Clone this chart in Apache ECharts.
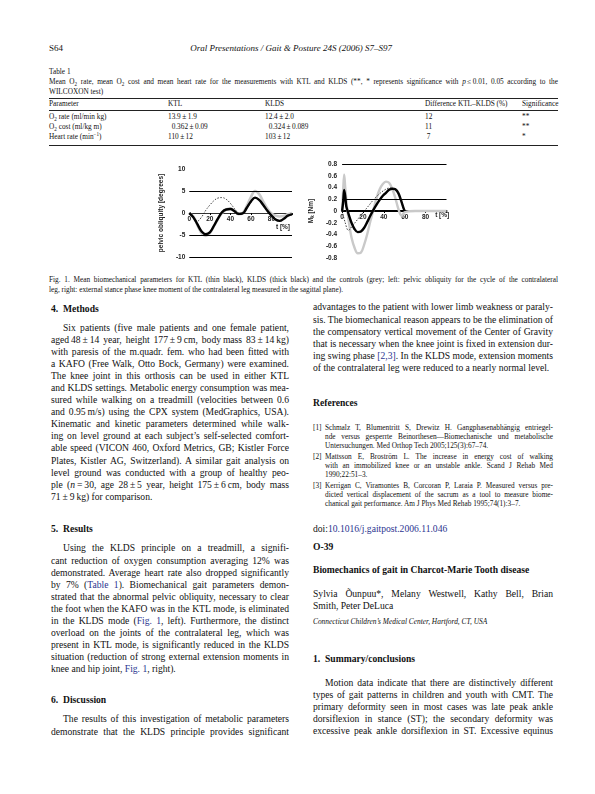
<!DOCTYPE html>
<html><head><meta charset="utf-8">
<script src="https://cdn.jsdelivr.net/npm/echarts@6/dist/echarts.min.js"></script>
<style>
html,body{margin:0;padding:0;background:#fff;}
body{width:595px;height:794px;position:relative;overflow:hidden;font-family:"Liberation Serif","DejaVu Serif",serif;color:#111;}
.ln{position:absolute;white-space:normal;}
.j{text-align:justify;text-align-last:justify;}
.b{font-weight:bold;}
.lk{color:#2b3590;}
sub,sup{line-height:0;font-size:70%;}
.rule{position:absolute;left:49px;width:509px;height:0;border-top:0.7px solid #222;}
#c1,#c2{position:absolute;}
</style></head><body>
<div id="c1" style="left:150px;top:160px;width:150px;height:110px"></div>
<div id="c2" style="left:300px;top:155px;width:155px;height:115px"></div>
<script>
// ---------- chart data ----------
// Left: pelvic obliquity [degrees] vs t [%]
const leftX    = [0,4,8,12,16,20,24,28,32,36,40,44,48,52,56,60,64,68,72,76,80,84,88,92,96,100];
const leftKTL  = [0,-1.0,-1.8,-0.9,0.6,1.8,2.8,3.4,3.5,3.1,2.2,1.0,0.0,-0.2,1.0,2.4,3.4,3.0,1.8,0.4,-0.7,-1.4,-1.7,-1.2,-0.5,-0.2];
const leftKLDS = [0,-1.0,-2.6,-4.2,-4.8,-4.4,-2.9,-1.2,0.2,0.8,0.9,0.4,-0.2,-0.1,1.2,2.6,3.5,3.0,1.8,0.5,-0.6,-1.5,-1.8,-1.3,-0.6,-0.3];
const leftCtrl = [0,-0.8,-2.8,-4.6,-5.2,-4.6,-3.0,-1.3,0.0,0.8,1.0,0.5,-0.3,0.0,1.6,3.6,5.0,4.3,2.6,1.0,-0.1,-0.6,-0.8,-0.7,-0.3,0];
const leftGrid = [5,-5,-10];
const xTicks   = [0,20,40,60,80];

// Right: knee moment M_k [Nm] vs t [%]
const rightCtrlX = [0,1,2,3,5,7,9,12,15,18,21,24,27,30,33,36,39,42,45,48,51,54,57,60,70,80,90,100];
const rightCtrl  = [0,0.35,0.62,0.4,0.02,-0.25,-0.45,-0.63,-0.72,-0.71,-0.58,-0.4,-0.18,0.02,0.22,0.37,0.46,0.5,0.48,0.38,0.22,0.03,-0.08,-0.02,0,0,0,0];
const rightKLDSX = [0,1,2,3,4,6,9,12,15,18,21,24,27,30,33,36,39,42,45,48,51,54,57,59,60];
const rightKLDS  = [0,0.15,0.36,0.25,0.08,-0.04,-0.2,-0.31,-0.36,-0.35,-0.29,-0.19,-0.08,0.02,0.11,0.19,0.26,0.31,0.36,0.38,0.37,0.3,0.15,0.04,0];
const rightKTLX  = [0,3,6,10,15,20,25,30,35,40,45,50,53,56,58,60];
const rightKTL   = [0,-0.2,-0.33,-0.25,-0.14,-0.03,0.08,0.19,0.28,0.35,0.39,0.38,0.34,0.2,0.1,0];
const rightGrid  = [0.8,0.2];

const pair = (xs, ys) => xs.map((x, i) => [x, ys[i]]);
const lblFont = {fontSize:6.5, color:'#222', fontFamily:'Liberation Sans', fontWeight:'bold'};

function gridMark(vals){
  return {silent:true, symbol:'none', label:{show:false}, animation:false,
    lineStyle:{color:'#000', width:1, type:'solid'}, data: vals.map(v => ({yAxis:v}))};
}

// grid heights: left 110-9-13 = 88 (zero at half), right 115-9-12 = 94 (zero at half)
const c1 = echarts.init(document.getElementById('c1'));
c1.setOption({
  animation:false,
  grid:{left:33, right:8, top:9, bottom:13},
  xAxis:{type:'value', min:0, max:100, interval:20, position:'bottom', offset:-44,
    axisLine:{onZero:false, lineStyle:{color:'#000', width:0.8}},
    axisTick:{show:true, length:2, lineStyle:{color:'#000'}},
    axisLabel:Object.assign({margin:3, formatter:v => xTicks.includes(v) ? String(v) : ''}, lblFont),
    splitLine:{show:false},
    name:'t [%]', nameLocation:'end', nameGap:0,
    nameTextStyle:{fontSize:6.5, fontFamily:'Liberation Sans', fontWeight:'bold', color:'#222', align:'right', verticalAlign:'top', padding:[11,2,0,0]}},
  yAxis:{type:'value', min:-10, max:10, interval:5,
    axisLine:{show:false}, axisTick:{show:false}, splitLine:{show:false},
    axisLabel:Object.assign({margin:4}, lblFont),
    name:'pelvic obliquity [degrees]', nameLocation:'middle', nameGap:19,
    nameTextStyle:{fontSize:6.5, fontFamily:'Liberation Sans', fontWeight:'bold', color:'#222'}},
  series:[
    {type:'line', data:pair(leftX, leftCtrl), smooth:0.4, symbol:'none', z:2,
     lineStyle:{color:'#c9c9c9', width:2.6}, markLine:gridMark(leftGrid)},
    {type:'line', data:pair(leftX, leftKLDS), smooth:0.4, symbol:'none', z:3,
     lineStyle:{color:'#000', width:2.4}},
    {type:'line', data:pair(leftX, leftKTL), smooth:0.4, symbol:'none', z:4,
     lineStyle:{color:'#111', width:0.8, type:[1.5,1.5]}}
  ]
});

const c2 = echarts.init(document.getElementById('c2'));
c2.setOption({
  animation:false,
  grid:{left:31.5, right:8.5, top:9, bottom:12},
  xAxis:{type:'value', min:0, max:100, interval:20, position:'bottom', offset:-47,
    axisLine:{onZero:false, lineStyle:{color:'#000', width:2}},
    axisTick:{show:true, length:2, lineStyle:{color:'#000'}},
    axisLabel:Object.assign({margin:3, formatter:v => xTicks.includes(v) ? String(v) : ''}, lblFont),
    splitLine:{show:false},
    name:'t [%]', nameLocation:'end', nameGap:0,
    nameTextStyle:{fontSize:6.5, fontFamily:'Liberation Sans', fontWeight:'bold', color:'#222', align:'right', verticalAlign:'top', padding:[1,3,0,0]}},
  yAxis:{type:'value', min:-0.8, max:0.8, interval:0.2,
    axisLine:{show:false}, axisTick:{show:false}, splitLine:{show:false},
    axisLabel:Object.assign({margin:5, formatter:v => Math.abs(v) < 1e-9 ? '0' : v.toFixed(1)}, lblFont),
    name:'{m|M}{s|k} [Nm]', nameLocation:'middle', nameGap:22,
    nameTextStyle:{fontSize:6.5, fontFamily:'Liberation Sans', fontWeight:'bold', color:'#222',
      rich:{m:{fontSize:6.5, fontFamily:'Liberation Sans', fontWeight:'bold', color:'#222'},
            s:{fontSize:4.5, fontFamily:'Liberation Sans', fontWeight:'bold', color:'#222', verticalAlign:'bottom'}}}},
  series:[
    {type:'line', data:pair(rightCtrlX, rightCtrl), smooth:0.35, symbol:'none', z:2,
     lineStyle:{color:'#c9c9c9', width:2.4}, markLine:gridMark(rightGrid)},
    {type:'line', data:pair(rightKLDSX, rightKLDS), smooth:0.35, symbol:'none', z:3,
     lineStyle:{color:'#000', width:2.4}},
    {type:'line', data:pair(rightKTLX, rightKTL), smooth:0.35, symbol:'none', z:4,
     lineStyle:{color:'#111', width:0.8, type:[1.5,1.5]}}
  ]
});

// ---------- page text ----------
function add(x, yc, w, lh, fs, html, cls, extra){
  const d = document.createElement('div');
  d.className = 'ln ' + (cls || '');
  d.style.left = x + 'px';
  d.style.top = (yc - lh / 2) + 'px';
  if (w) d.style.width = w + 'px';
  d.style.lineHeight = lh + 'px';
  d.style.fontSize = fs + 'px';
  d.innerHTML = html;
  if (extra) Object.assign(d.style, extra);
  document.body.appendChild(d);
  return d;
}
// lines: '@' prefix = paragraph indent, '$' suffix = not justified
function para(x, w, y0, lh, fs, lines, indent){
  lines.forEach((t, i) => {
    let ind = 0, cls = 'j';
    if (t.startsWith('@')) { t = t.slice(1); ind = indent; }
    if (t.endsWith('$')) { t = t.slice(0, -1); cls = ''; }
    add(x + ind, y0 + i * lh, w - ind, lh, fs, t, cls);
  });
}
const T = '\u2009';
const pm = T + '±' + T;

// header
add(49, 48, 40, 11, 9, 'S64');
add(0, 48, 392, 11, 9, '<i>Oral Presentations / Gait &amp; Posture 24S (2006) S7–S97</i>', '', {textAlign:'right'});

// table
const tfs = 7.3;
add(49, 71, 0, 9, tfs, 'Table 1');
add(49, 82, 509, 10, tfs, 'Mean O<sub>2</sub> rate, mean O<sub>2</sub> cost and mean heart rate for the measurements with KTL and KLDS (**, * represents significance with <i>p</i>' + T + '≤' + T + '0.01, 0.05 according to the', 'j');
add(49, 92, 0, 10, tfs, 'WILCOXON test)');
[98, 109.5, 145].forEach(y => { const d = document.createElement('div'); d.className = 'rule'; d.style.top = y + 'px'; document.body.appendChild(d); });
const colX = [49, 168, 265, 425, 522];
const tRows = [
  [104, ['Parameter', 'KTL', 'KLDS', 'Difference KTL–KLDS (%)', 'Significance']],
  [117, ['O<sub>2</sub> rate (ml/min kg)', '13.9' + pm + '1.9', '12.4' + pm + '2.0', '12', '**']],
  [127, ['O<sub>2</sub> cost (ml/kg m)', '&nbsp;&nbsp;0.362' + pm + '0.09', '&nbsp;&nbsp;0.324' + pm + '0.089', '11', '**']],
  [137, ['Heart rate (min<sup>−1</sup>)', '110' + pm + '12', '103' + pm + '12', '&nbsp;7', '*']]
];
tRows.forEach(r => r[1].forEach((c, k) => add(colX[k], r[0], 0, 10, tfs, c, '', {whiteSpace:'nowrap'})));

// figure caption
add(49, 280, 509, 10, tfs, 'Fig. 1. Mean biomechanical parameters for KTL (thin black), KLDS (thick black) and the controls (grey; left: pelvic obliquity for the cycle of the contralateral', 'j');
add(49, 290, 0, 10, tfs, 'leg, right: external stance phase knee moment of the contralateral leg measured in the sagittal plane).', '', {whiteSpace:'nowrap'});

// left column
const LX = 51, LW = 238, RX = 313, RW = 240, LH = 12.05, FS = 9.6, IND = 12;
add(LX, 309, 0, LH, FS, '4.&nbsp; Methods', 'b', {whiteSpace:'nowrap'});
para(LX, LW, 328, LH, FS, [
  '@Six patients (five male patients and one female patient,',
  'aged' + T + '48' + pm + '14 year, height 177' + pm + '9' + T + 'cm, body' + T + 'mass 83' + pm + '14' + T + 'kg)',
  'with paresis of the m.quadr. fem. who had been fitted with',
  'a KAFO (Free Walk, Otto Bock, Germany) were examined.',
  'The knee joint in this orthosis can be used in either KTL',
  'and KLDS settings. Metabolic energy consumption was mea-',
  'sured while walking on a treadmill (velocities between 0.6',
  'and 0.95' + T + 'm/s) using the CPX system (MedGraphics, USA).',
  'Kinematic and kinetic parameters determined while walk-',
  'ing on level ground at each subject’s self-selected comfort-',
  'able speed (VICON 460, Oxford Metrics, GB; Kistler Force',
  'Plates, Kistler AG, Switzerland). A similar gait analysis on',
  'level ground was conducted with a group of healthy peo-',
  'ple (<i>n</i>' + T + '=' + T + '30, age 28' + pm + '5 year, height 175' + pm + '6' + T + 'cm, body mass',
  '71' + pm + '9' + T + 'kg) for comparison.$'
], IND);
add(LX, 529, 0, LH, FS, '5.&nbsp; Results', 'b', {whiteSpace:'nowrap'});
para(LX, LW, 548.5, LH, FS, [
  '@Using the KLDS principle on a treadmill, a signifi-',
  'cant reduction of oxygen consumption averaging 12% was',
  'demonstrated. Average heart rate also dropped significantly',
  'by 7% (<span class="lk">Table 1</span>). Biomechanical gait parameters demon-',
  'strated that the abnormal pelvic obliquity, necessary to clear',
  'the foot when the KAFO was in the KTL mode, is eliminated',
  'in the KLDS mode (<span class="lk">Fig. 1</span>, left). Furthermore, the distinct',
  'overload on the joints of the contralateral leg, which was',
  'present in KTL mode, is significantly reduced in the KLDS',
  'situation (reduction of strong external extension moments in',
  'knee and hip joint, <span class="lk">Fig. 1</span>, right).$'
], IND);
add(LX, 700, 0, LH, FS, '6.&nbsp; Discussion', 'b', {whiteSpace:'nowrap'});
para(LX, LW, 719.5, LH, FS, [
  '@The results of this investigation of metabolic parameters',
  'demonstrate that the KLDS principle provides significant'
], IND);

// right column
para(RX, RW, 307.5, LH, FS, [
  'advantages to the patient with lower limb weakness or paraly-',
  'sis. The biomechanical reason appears to be the elimination of',
  'the compensatory vertical movement of the Center of Gravity',
  'that is necessary when the knee joint is fixed in extension dur-',
  'ing swing phase <span class="lk">[2,3]</span>. In the KLDS mode, extension moments',
  'of the contralateral leg were reduced to a nearly normal level.$'
], IND);
add(RX, 403, 0, LH, FS, 'References', 'b');
const rfs = 7.3, rlh = 9.1, RTX = 325, RTW = 228;
const refs = [
  ['[1]', ['Schmalz T, Blumentritt S, Drewitz H. Gangphasenabhängig entriegel-',
           'nde versus gesperrte Beinorthesen—Biomechanische und metabolische',
           'Untersuchungen. Med Orthop Tech 2005;125(3):67–74.$']],
  ['[2]', ['Mattsson E, Broström L. The increase in energy cost of walking',
           'with an immobilized knee or an unstable ankle. Scand J Rehab Med',
           '1990;22:51–3.$']],
  ['[3]', ['Kerrigan C, Viramontes B, Corcoran P, Laraia P. Measured versus pre-',
           'dicted vertical displacement of the sacrum as a tool to measure biome-',
           'chanical gait performance. Am J Phys Med Rehab 1995;74(1):3–7.$']]
];
let ry = 427.5;
refs.forEach(r => {
  add(RX, ry, 0, rlh, rfs, r[0]);
  para(RTX, RTW, ry, rlh, rfs, r[1], 0);
  ry += 3 * rlh + 1.6;
});
add(RX, 529.5, 0, LH, FS, 'doi:<span class="lk">10.1016/j.gaitpost.2006.11.046</span>', '', {whiteSpace:'nowrap'});
add(RX, 547, 0, LH, FS, 'O-39', 'b');
add(RX, 570, 0, LH, FS, 'Biomechanics of gait in Charcot-Marie Tooth disease', 'b', {whiteSpace:'nowrap'});
para(RX, RW, 594, LH, FS, [
  'Sylvia Õunpuu*, Melany Westwell, Kathy Bell, Brian',
  'Smith, Peter DeLuca$'
], 0);
add(RX, 621.5, 0, 10, 7.4, '<i>Connecticut Children’s Medical Center, Hartford, CT, USA</i>', '', {whiteSpace:'nowrap'});
add(RX, 659.5, 0, LH, FS, '1.&nbsp; Summary/conclusions', 'b', {whiteSpace:'nowrap'});
para(RX, RW, 683.3, LH, FS, [
  '@Motion data indicate that there are distinctively different',
  'types of gait patterns in children and youth with CMT. The',
  'primary deformity seen in most cases was late peak ankle',
  'dorsiflexion in stance (ST); the secondary deformity was',
  'excessive peak ankle dorsiflexion in ST. Excessive equinus'
], IND);
</script>
</body></html>
